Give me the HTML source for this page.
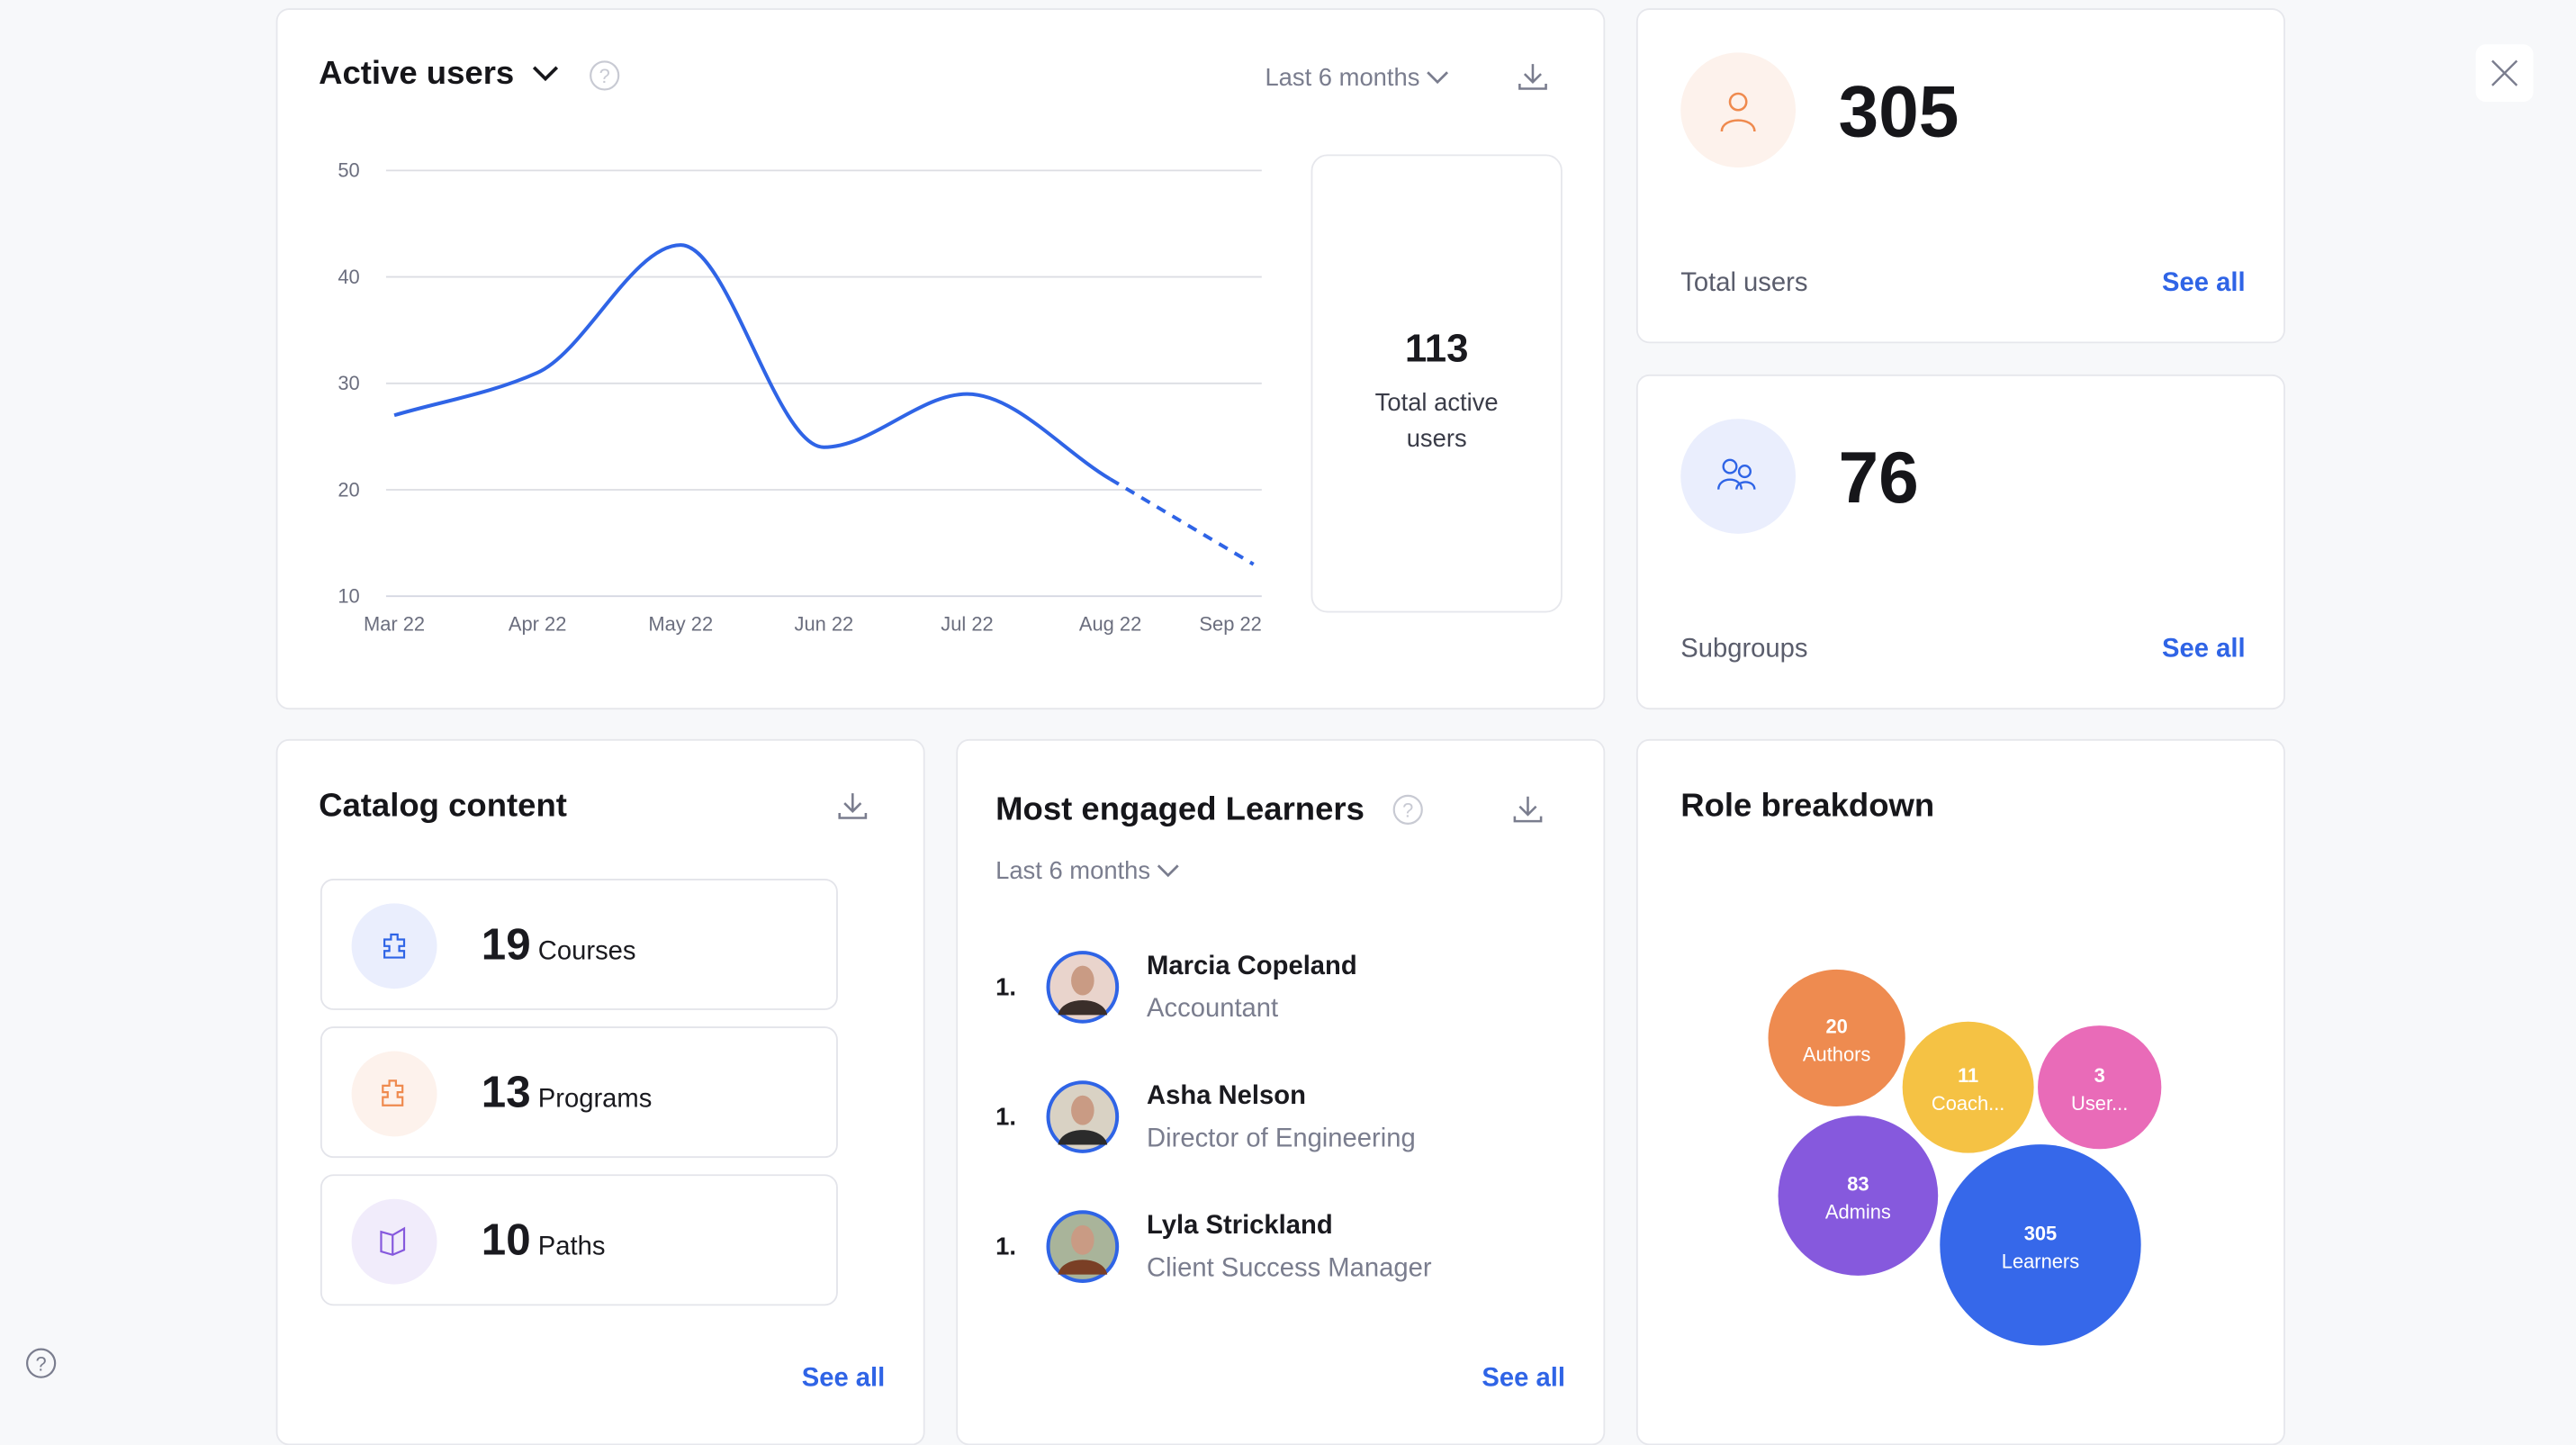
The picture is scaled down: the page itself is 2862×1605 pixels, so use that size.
<!DOCTYPE html>
<html><head><meta charset="utf-8">
<style>
html,body{margin:0;padding:0;background:#f7f8fa;width:2862px;height:1578px;overflow:hidden}
#root{position:absolute;left:0;top:0;width:1568px;height:865px;transform-origin:0 0;transform:scale(1.82526,1.82428);font-family:"Liberation Sans","DejaVu Sans",sans-serif;color:#1a1a1f}
.card{position:absolute;background:#fff;border:1px solid #e6e7ec;border-radius:8px;box-sizing:border-box}
.abs{position:absolute}
.h{font-size:20px;font-weight:bold;color:#16161a}
.grey{color:#7a7d8e}
.link{color:#2f64e6;font-size:16px;font-weight:bold}
.ic{position:absolute;border-radius:50%}
.item{position:absolute;left:26px;width:315px;height:80px;border:1px solid #e3e4ea;border-radius:8px;box-sizing:border-box}
.big{font-size:44px;font-weight:bold;color:#16161a}
</style></head><body>
<div id="root">

<div class="card" style="left:168px;top:5px;width:809px;height:427px">
  <div class="abs h" style="left:25px;top:28px">Active users <svg width="18" height="12" style="margin-left:4px" viewBox="0 0 18 12"><path d="M2 2 L9 9 L16 2" fill="none" stroke="#16161a" stroke-width="2"/></svg></div>
  <svg class="abs" style="left:189px;top:30px" width="20" height="20"><circle cx="10" cy="10" r="8.5" fill="none" stroke="#c8cad3" stroke-width="1.2"/><text x="10" y="14.5" font-size="12" text-anchor="middle" fill="#c8cad3" font-family="Liberation Sans">?</text></svg>
  <div class="abs grey" style="left:601px;top:33px;font-size:15px">Last 6 months <svg width="14" height="9" viewBox="0 0 14 9"><path d="M1 1 L7 7 L13 1" fill="none" stroke="#7a7d8e" stroke-width="1.5"/></svg></div>
  <svg class="abs" style="left:753px;top:31px" width="22" height="20"><path d="M11 2 V12 M6 8 L11 13 L16 8 M3 14 V17 H19 V14" fill="none" stroke="#7a7d8e" stroke-width="1.4"/></svg>
  <div class="card" style="left:629px;top:88px;width:153px;height:279px;border-radius:10px">
    <div class="abs" style="left:0;width:100%;top:104px;text-align:center;font-size:24px;font-weight:bold">113</div>
    <div class="abs" style="left:0;width:100%;top:140px;text-align:center;font-size:15px;color:#3a3c48;line-height:22px">Total active<br>users</div>
  </div>
</div>
<svg id="chart" class="abs" style="left:0;top:0" width="980" height="440"></svg>

<div class="card" style="left:996px;top:5px;width:395px;height:204px">
  <div class="ic" style="left:26px;top:26px;width:70px;height:70px;background:#fdf2ec"></div>
  <svg class="abs" style="left:48px;top:48px" width="26" height="28"><circle cx="13" cy="8" r="5" fill="none" stroke="#ef8a4e" stroke-width="1.4"/><path d="M3 26 C3 17 23 17 23 26" fill="none" stroke="#ef8a4e" stroke-width="1.4"/></svg>
  <div class="abs big" style="left:122px;top:38px">305</div>
  <div class="abs" style="left:26px;top:158px;font-size:16px;color:#5a5d6c">Total users</div>
  <div class="abs link" style="left:319px;top:158px">See all</div>
</div>

<div class="card" style="left:996px;top:228px;width:395px;height:204px">
  <div class="ic" style="left:26px;top:26px;width:70px;height:70px;background:#eaeefd"></div>
  <svg class="abs" style="left:47px;top:49px" width="28" height="26"><circle cx="9" cy="6" r="4" fill="none" stroke="#2f64e6" stroke-width="1.3"/><circle cx="18" cy="9" r="3.5" fill="none" stroke="#2f64e6" stroke-width="1.3"/><path d="M2 20 C2 12 16 12 16 20 M13 20 C13 14 24 14 24 20" fill="none" stroke="#2f64e6" stroke-width="1.3"/></svg>
  <div class="abs big" style="left:122px;top:38px">76</div>
  <div class="abs" style="left:26px;top:158px;font-size:16px;color:#5a5d6c">Subgroups</div>
  <div class="abs link" style="left:319px;top:158px">See all</div>
</div>

<div class="abs" style="left:1507px;top:27px;width:35px;height:35px;background:#fff;border-radius:6px"><svg width="35" height="35"><path d="M10 10 L25 25 M25 10 L10 25" stroke="#7a7d8e" stroke-width="1.3"/></svg></div>
<svg class="abs" style="left:15px;top:820px" width="22" height="22"><circle cx="10" cy="10" r="8.5" fill="none" stroke="#7a7d8e" stroke-width="1.2"/><text x="10" y="14.5" font-size="12" text-anchor="middle" fill="#7a7d8e" font-family="Liberation Sans">?</text></svg>

<div class="card" style="left:168px;top:450px;width:395px;height:430px">
  <div class="abs h" style="left:25px;top:29px">Catalog content</div>
  <svg class="abs" style="left:339px;top:30px" width="22" height="20"><path d="M11 2 V12 M6 8 L11 13 L16 8 M3 14 V17 H19 V14" fill="none" stroke="#7a7d8e" stroke-width="1.4"/></svg>
  <div class="item" style="top:84px">
    <div class="ic" style="left:18px;top:14px;width:52px;height:52px;background:#eaeefd"></div>
    <svg class="abs" style="left:34px;top:30px" width="20" height="20"><path d="M4 6 H8 V3 H12 V6 H16 V10 H13 V13 H16 V17 H4 V13 H7 V10 H4 Z" fill="none" stroke="#2f64e6" stroke-width="1.2"/></svg>
    <div class="abs" style="left:97px;top:24px"><span style="font-size:27px;font-weight:bold">19</span> <span style="font-size:16px">Courses</span></div>
  </div>
  <div class="item" style="top:174px">
    <div class="ic" style="left:18px;top:14px;width:52px;height:52px;background:#fdf2ec"></div>
    <svg class="abs" style="left:34px;top:30px" width="20" height="20"><path d="M3 5 H7 V2 H11 V5 H15 V9 H12 V12 H15 V17 H3 V12 H6 V9 H3 Z" fill="none" stroke="#ef8a4e" stroke-width="1.2"/></svg>
    <div class="abs" style="left:97px;top:24px"><span style="font-size:27px;font-weight:bold">13</span> <span style="font-size:16px">Programs</span></div>
  </div>
  <div class="item" style="top:264px">
    <div class="ic" style="left:18px;top:14px;width:52px;height:52px;background:#f1ecfb"></div>
    <svg class="abs" style="left:34px;top:30px" width="20" height="20"><path d="M2 4 L9 6 L16 2 V15 L9 18 L2 16 Z M9 6 V18" fill="none" stroke="#8659dd" stroke-width="1.2"/></svg>
    <div class="abs" style="left:97px;top:24px"><span style="font-size:27px;font-weight:bold">10</span> <span style="font-size:16px">Paths</span></div>
  </div>
  <div class="abs link" style="left:319px;top:380px">See all</div>
</div>

<div class="card" style="left:582px;top:450px;width:395px;height:430px">
  <div class="abs h" style="left:23px;top:31px">Most engaged Learners</div>
  <svg class="abs" style="left:264px;top:32px" width="20" height="20"><circle cx="10" cy="10" r="8.5" fill="none" stroke="#c8cad3" stroke-width="1.2"/><text x="10" y="14.5" font-size="12" text-anchor="middle" fill="#c8cad3" font-family="Liberation Sans">?</text></svg>
  <svg class="abs" style="left:336px;top:32px" width="22" height="20"><path d="M11 2 V12 M6 8 L11 13 L16 8 M3 14 V17 H19 V14" fill="none" stroke="#7a7d8e" stroke-width="1.4"/></svg>
  <div class="abs grey" style="left:23px;top:71px;font-size:15px">Last 6 months <svg width="14" height="9" viewBox="0 0 14 9"><path d="M1 1 L7 7 L13 1" fill="none" stroke="#7a7d8e" stroke-width="1.5"/></svg></div>
  <div id="learners"></div>
  <div class="abs link" style="left:319px;top:380px">See all</div>
</div>

<div class="card" style="left:996px;top:450px;width:395px;height:430px">
  <div class="abs h" style="left:26px;top:29px">Role breakdown</div>
</div>
<svg id="bubbles" class="abs" style="left:0;top:0" width="1568" height="865"></svg>
</div>

<script>
// Active users line chart
const months = ["Mar 22","Apr 22","May 22","Jun 22","Jul 22","Aug 22","Sep 22"];
const activeUsers = [27, 31, 43, 24, 29, 21, 13];
const yTicks = [10, 20, 30, 40, 50];
const NS = "http://www.w3.org/2000/svg";
const svg = document.getElementById("chart");
const x0 = 240, x1 = 763, yBase = 363, yPer = 6.48;
const xs = i => x0 + i * (x1 - x0) / (months.length - 1);
const ys = v => yBase - (v - 10) * yPer;
function mk(tag, attrs, parent){const e=document.createElementNS(NS,tag);for(const k in attrs)e.setAttribute(k,attrs[k]);(parent||svg).appendChild(e);return e;}
yTicks.forEach(t=>{
  const l=mk("line",{x1:235,x2:768,y1:ys(t),y2:ys(t),stroke:t===10?"#d5d8e2":"#dcdde3","stroke-width":1});
  
  
  const tx=mk("text",{x:219,y:ys(t)+4,"font-size":12,fill:"#6b6e7e","text-anchor":"end","font-family":"Liberation Sans"});
  tx.textContent=t;
  
  
});
months.forEach((m,i)=>{
  const last=i===months.length-1;
  const tx=mk("text",{x:last?768:xs(i),y:384,"font-size":12,fill:"#6b6e7e","text-anchor":last?"end":"middle","font-family":"Liberation Sans"});
  tx.textContent=m;
  
  
});
const pts = activeUsers.map((v,i)=>[xs(i),ys(v)]);
// monotone cubic tangents
const np=pts.length, dx=pts[1][0]-pts[0][0];
const sl=[]; for(let i=0;i<np-1;i++) sl.push((pts[i+1][1]-pts[i][1])/dx);
const m=[sl[0]];
for(let i=1;i<np-1;i++){ m.push(sl[i-1]*sl[i]<=0?0:(2/(1/sl[i-1]+1/sl[i]))); }
m.push(sl[np-2]);
function seg(i){
  const h=dx/3;
  return `C${pts[i][0]+h},${pts[i][1]+m[i]*h} ${pts[i+1][0]-h},${pts[i+1][1]-m[i+1]*h} ${pts[i+1][0]},${pts[i+1][1]}`;
}
let d=`M${pts[0][0]},${pts[0][1]}`;
for(let i=0;i<np-2;i++) d+=seg(i);
const line=mk("path",{d:d,fill:"none",stroke:"#2f64e6","stroke-width":2.2});


const n=np-1;
const dash=mk("path",{d:`M${pts[n-1][0]},${pts[n-1][1]} L${pts[n][0]},${pts[n][1]}`,fill:"none",stroke:"#2f64e6","stroke-width":2.2,"stroke-dasharray":"6 5"});



// Learners list
const learnerNames = ["Marcia Copeland","Asha Nelson","Lyla Strickland"];
const learnerRoles = ["Accountant","Director of Engineering","Client Success Manager"];
const avatarColors = [["#3a2e2a","#e9d4cc"],["#2b2b2b","#d9d2c4"],["#7a3f25","#a9b49a"]];
const lc=document.getElementById("learners");
learnerNames.forEach((nm,i)=>{
  const top=129+i*79;
  const row=document.createElement("div");
  row.className="abs";
  row.style.cssText=`left:0;top:${top}px;width:390px;height:60px`;
  
  
  row.innerHTML=`<div class="abs" style="left:23px;top:13px;font-size:15px;font-weight:bold">1.</div>
  <svg class="abs" style="left:53px;top:-2px" width="46" height="46"><circle cx="23" cy="23" r="21" fill="${avatarColors[i][1]}" stroke="#2f64e6" stroke-width="2.2"/><ellipse cx="23" cy="19" rx="7" ry="9" fill="#c99b84"/><path d="M8 40 C10 28 36 28 38 40 Z" fill="${avatarColors[i][0]}"/></svg>
  <div class="abs" style="left:115px;top:0;font-size:16px;font-weight:bold;white-space:nowrap">${nm}</div>
  <div class="abs" style="left:115px;top:26px;font-size:16px;color:#7a7d8e;white-space:nowrap">${learnerRoles[i]}</div>`;
  lc.appendChild(row);
});

// Role bubbles
const roleLabels = ["Authors","Coach...","User...","Admins","Learners"];
const roleCounts = [20, 11, 3, 83, 305];
const roleColors = ["#ee8b50","#f5c244","#e96bb8","#8659dd","#3668ea"];
const bubbleCenters = [[1118,632],[1198,662],[1278,662],[1131,728],[1242,758]];
const bsvg=document.getElementById("bubbles");
const rScale = v => 35 + 1.5*Math.sqrt(v);
roleCounts.forEach((v,i)=>{
  const [cx,cy]=bubbleCenters[i];
  const c=mk("circle",{cx:cx,cy:cy,r:rScale(v),fill:roleColors[i]},bsvg);
  
  
  const t1=mk("text",{x:cx,y:cy-3,"font-size":12,"font-weight":"bold",fill:"#fff","text-anchor":"middle","font-family":"Liberation Sans"},bsvg);
  t1.textContent=v;
  
  
  const t2=mk("text",{x:cx,y:cy+14,"font-size":12,fill:"#fff","text-anchor":"middle","font-family":"Liberation Sans"},bsvg);
  t2.textContent=roleLabels[i];
  
  
});
</script>
</body></html>
